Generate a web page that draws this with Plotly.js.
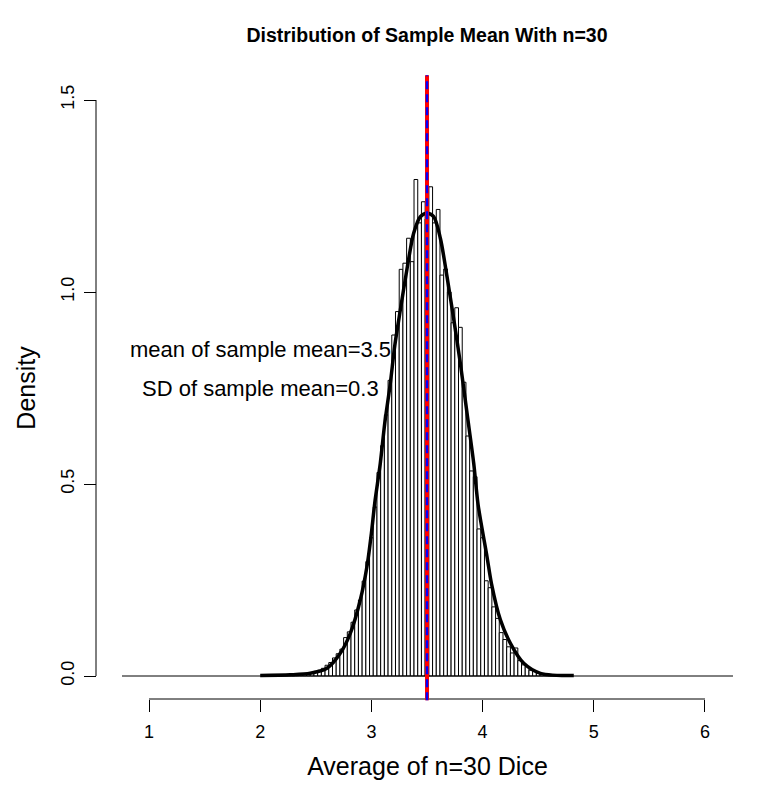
<!DOCTYPE html>
<html>
<head>
<meta charset="utf-8">
<script src="https://cdn.plot.ly/plotly-3.0.1.min.js"></script>
<style>html,body{margin:0;padding:0;background:#fff;}#chart{width:768px;height:800px;}</style>
</head>
<body>
<div id="chart"></div>
<script>
// Histogram of sample means (bin width 1/30, first bin centred at 2.2)
const firstBinCenter = 2.2;
const binWidth = 1 / 30;
const densities = [
  0.001, 0.001, 0.002, 0.002, 0.003, 0.004, 0.005, 0.007, 0.008, 0.012,
  0.015, 0.020, 0.028, 0.035, 0.047, 0.058, 0.070, 0.100, 0.115, 0.140,
  0.172, 0.198, 0.247, 0.298, 0.360, 0.440, 0.530, 0.600, 0.680, 0.770,
  0.888, 0.949, 1.059, 1.075, 1.140, 1.079, 1.293, 1.180, 1.235, 1.190,
  1.274, 1.180, 1.215, 1.044, 1.060, 1.000, 0.920, 0.959, 0.908, 0.765,
  0.625, 0.534, 0.519, 0.383, 0.360, 0.248, 0.230, 0.180, 0.150, 0.113,
  0.095, 0.076, 0.060, 0.073, 0.040, 0.029, 0.025, 0.015, 0.012, 0.008,
  0.006, 0.004, 0.003, 0.002, 0.002, 0.001, 0.001, 0.001
];

// Fitted density curve
const curveX = [2.00, 2.27, 2.45, 2.60, 2.72, 2.81, 2.90, 2.96, 3.00, 3.03, 3.08, 3.12, 3.17, 3.21, 3.26, 3.32, 3.38, 3.44, 3.50, 3.56, 3.62, 3.68, 3.74, 3.80, 3.86, 3.92, 3.96, 4.04, 4.08, 4.16, 4.25, 4.37, 4.52, 4.82];
const curveY = [0.001, 0.003, 0.007, 0.020, 0.059, 0.111, 0.198, 0.285, 0.372, 0.450, 0.554, 0.658, 0.762, 0.860, 0.953, 1.060, 1.153, 1.196, 1.205, 1.196, 1.140, 1.040, 0.930, 0.814, 0.684, 0.554, 0.445, 0.310, 0.240, 0.146, 0.085, 0.033, 0.007, 0.001];

const sampleMean = 3.5;
const theoreticalMean = 3.5;
const xTicks = [1, 2, 3, 4, 5, 6];
const yTicks = [0.0, 0.5, 1.0, 1.5];
const yTickText = ['0.0', '0.5', '1.0', '1.5'];
const label1 = 'mean of sample mean=3.5';
const label2 = 'SD of sample mean=0.3';

const FONT = 'Liberation Sans, Arial, Helvetica, sans-serif';

const traces = [
  {
    type: 'bar',
    x0: firstBinCenter,
    dx: binWidth,
    y: densities,
    width: binWidth,
    marker: {color: '#ffffff', line: {color: '#000000', width: 1}},
    hoverinfo: 'skip',
    showlegend: false
  },
  {
    type: 'scatter',
    mode: 'lines',
    x: curveX,
    y: curveY,
    line: {color: '#000000', width: 3.5, shape: 'spline', smoothing: 0.8},
    hoverinfo: 'skip',
    showlegend: false
  }
];

const layout = {
  width: 768,
  height: 800,
  margin: {l: 96, r: 35, t: 77, b: 101, pad: 0},
  paper_bgcolor: '#ffffff',
  plot_bgcolor: '#ffffff',
  bargap: 0,
  font: {family: FONT, color: '#000000'},
  title: {
    text: 'Distribution of Sample Mean With n=30',
    font: {family: FONT, size: 19.5, color: '#000000', weight: 'bold'},
    xref: 'paper', x: 0.5196, xanchor: 'center',
    yref: 'container', y: 0.956, yanchor: 'middle'
  },
  xaxis: {
    domain: [0.0408, 1],
    range: [0.757, 6.2518],
    showgrid: false, zeroline: false, showline: false,
    tickmode: 'array', tickvals: xTicks, ticktext: xTicks.map(String),
    ticks: 'outside', ticklen: 12, tickwidth: 1, tickcolor: '#000000',
    ticklabelstandoff: 4,
    tickfont: {family: FONT, size: 18, color: '#000000'},
    title: {text: 'Average of n=30 Dice', font: {family: FONT, size: 25, color: '#000000'}, standoff: 16}
  },
  yaxis: {
    anchor: 'free', position: 0,
    range: [-0.0599, 1.5599],
    showgrid: false, zeroline: false, showline: false,
    tickmode: 'array', tickvals: yTicks, ticktext: yTickText,
    ticks: 'outside', ticklen: 12, tickwidth: 1, tickcolor: '#000000',
    tickangle: -90,
    ticklabelstandoff: 3,
    tickfont: {family: FONT, size: 18, color: '#000000'},
    title: {text: 'Density', font: {family: FONT, size: 25, color: '#000000'}, standoff: 14}
  },
  shapes: [
    // x axis line (1..6)
    {type: 'line', xref: 'x', yref: 'paper', x0: xTicks[0], x1: xTicks[xTicks.length - 1], y0: 0, y1: 0, line: {color: '#000000', width: 1}, layer: 'above'},
    // y axis line (0..1.5)
    {type: 'line', xref: 'paper', yref: 'y', x0: 0, x1: 0, y0: yTicks[0], y1: yTicks[yTicks.length - 1], line: {color: '#000000', width: 1}, layer: 'above'},
    // baseline at density 0
    {type: 'line', xref: 'x', yref: 'y', x0: 0.757, x1: 6.2518, y0: 0, y1: 0, line: {color: '#000000', width: 1}, layer: 'above'},
    // sample mean (red)
    {type: 'line', xref: 'x', yref: 'paper', x0: sampleMean, x1: sampleMean, y0: -0.002, y1: 1.003, line: {color: '#ff0000', width: 4}, layer: 'above'},
    // theoretical mean (blue dashed)
    {type: 'line', xref: 'x', yref: 'paper', x0: theoreticalMean, x1: theoreticalMean, y0: -0.002, y1: 1.003, line: {color: '#0000ff', width: 2.5, dash: '8px,5px'}, layer: 'above'}
  ],
  annotations: [
    {xref: 'x', yref: 'y', x: 2.0, y: 0.85, text: label1, showarrow: false, xanchor: 'center', yanchor: 'middle', font: {family: FONT, size: 22, color: '#000000'}},
    {xref: 'x', yref: 'y', x: 2.0, y: 0.75, text: label2, showarrow: false, xanchor: 'center', yanchor: 'middle', font: {family: FONT, size: 22, color: '#000000'}}
  ]
};

Plotly.newPlot('chart', traces, layout, {displayModeBar: false, staticPlot: true});
</script>
</body>
</html>
